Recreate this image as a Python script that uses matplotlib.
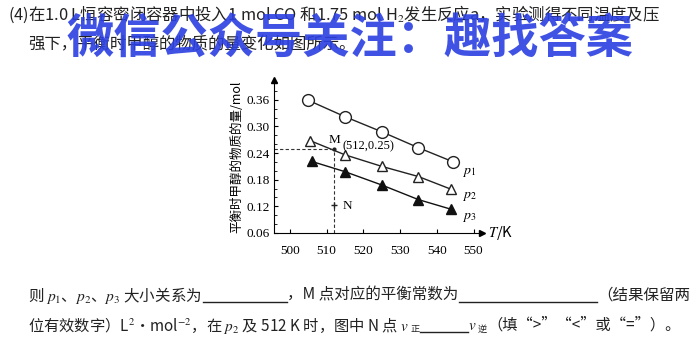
import numpy as np
import matplotlib.pyplot as plt
from matplotlib.lines import Line2D
from matplotlib.ticker import MultipleLocator

plt.rcParams['font.family'] = ['Noto Sans CJK SC', 'DejaVu Sans']
plt.rcParams['mathtext.fontset'] = 'stix'

# data
T1 = [505, 515, 525, 535, 544.5]
p1 = [0.359, 0.322, 0.288, 0.252, 0.220]
T2 = [505.5, 515, 525, 535, 544]
p2 = [0.268, 0.236, 0.210, 0.187, 0.158]
T3 = [506, 515, 525, 535, 544]
p3 = [0.221, 0.198, 0.168, 0.135, 0.113]
M = (512, 0.25)
N = (512, 0.123)
yticks = [0.06, 0.12, 0.18, 0.24, 0.30, 0.36]
xticks = [500, 510, 520, 530, 540, 550]

W, H = 700, 337
fig = plt.figure(figsize=(7, 3.37), dpi=100)
ax = fig.add_axes([0.391, 0.309, 0.297, 0.454])

ax.plot(T1, p1, '-o', color='#222222', mfc='white', mec='#222222', ms=8.5, lw=1)
ax.plot(T2, p2, '-^', color='#222222', mfc='white', mec='#222222', ms=7, lw=1)
ax.plot(T3, p3, '-^', color='#111111', mfc='#111111', ms=7, lw=1)

ax.plot([495.6, M[0]], [M[1], M[1]], '--', color='#333333', lw=0.8, dashes=(3, 2))
ax.plot([M[0], M[0]], [0.06, M[1]], '--', color='#333333', lw=0.8, dashes=(3, 2))
ax.plot(*M, 'o', color='#222222', ms=2)
ax.plot(*N, '+', color='#222222', ms=4)
ax.text(512.2, 0.262, 'M', fontsize=9.5, family='Liberation Serif', ha='center')
ax.text(514.3, 0.2475, '(512,0.25)', fontsize=9, family='Liberation Serif')
ax.text(514.3, 0.113, 'N', fontsize=9.5, family='Liberation Serif')
ax.text(546.8, 0.193, '$p_1$', fontsize=10)
ax.text(546.8, 0.138, '$p_2$', fontsize=10)
ax.text(546.8, 0.092, '$p_3$', fontsize=10)

ax.set_xlim(495.6, 552.2)
ax.set_ylim(0.06, 0.405)
ax.set_xticks(xticks)
ax.set_yticks(yticks)
ax.set_yticklabels([f'{v:.2f}' for v in yticks])
ax.yaxis.set_minor_locator(MultipleLocator(0.02))
ax.tick_params(axis='y', direction='in', length=3, labelsize=9.5, pad=3)
ax.tick_params(axis='x', direction='in', length=3, labelsize=9.5, pad=9)
ax.tick_params(which='minor', direction='in', length=2)
for lab in ax.get_xticklabels() + ax.get_yticklabels():
    lab.set_family('Liberation Serif')
ax.spines['top'].set_visible(False)
ax.spines['right'].set_visible(False)
ax.plot(1, 0, '>k', ms=4, transform=ax.transAxes, clip_on=False)
ax.plot(0, 1, '^k', ms=4, transform=ax.transAxes, clip_on=False)
ax.text(1.03, 0.0, '$T$/K', transform=ax.transAxes, fontsize=10.5, va='center')
ax.set_ylabel('平衡时甲醇的物质的量/mol', fontsize=9, labelpad=2)

renderer = fig.canvas.get_renderer()


def write_line(x0, y, pieces, size=11):
    # pieces: strings, ('sub', text) for small lowered text, or ('blank', width_px)
    x = x0
    for p in pieces:
        if isinstance(p, tuple) and p[0] == 'blank':
            fig.add_artist(Line2D([x / W, (x + p[1]) / W], [(y - 7) / H, (y - 7) / H],
                                  color='#222222', lw=1))
            x += p[1]
            continue
        if isinstance(p, tuple) and p[0] == 'sub':
            t = fig.text(x / W, (y - 4) / H, p[1], fontsize=size * 0.6, va='center', color='#222222')
        else:
            t = fig.text(x / W, y / H, p, fontsize=size, va='center', color='#222222')
        x = t.get_window_extent(renderer).x1 + 1


# question text around the chart
write_line(8, H - 14, ['(4)在1.0 L恒容密闭容器中投入1 mol CO 和1.75 mol H$_2$发生反应a，实验测得不同温度及压'], size=11.8)
write_line(28, H - 44, ['强下，平衡时甲醇的物质的量变化如图所示。'], size=11.8)
write_line(28, H - 295, ['则 $p_1$、$p_2$、$p_3$ 大小关系为', ('blank', 84), '，M 点对应的平衡常数为',
                         ('blank', 138), '（结果保留两'], size=11.2)
write_line(28, H - 325, ['位有效数字）L$^2$·mol$^{-2}$，在 $p_2$ 及 512 K 时，图中 N 点 $v$', ('sub', '正'),
                         ('blank', 48), '$v$', ('sub', '逆'), '（填“>”“<”或“=”）。'], size=11)

# watermark
fig.text(0.5, 0.885, '微信公众号关注：趣找答案', fontsize=34, color='#2b3fe0',
         ha='center', va='center', fontweight='bold', alpha=0.9)

fig.savefig('out.png', dpi=100)
